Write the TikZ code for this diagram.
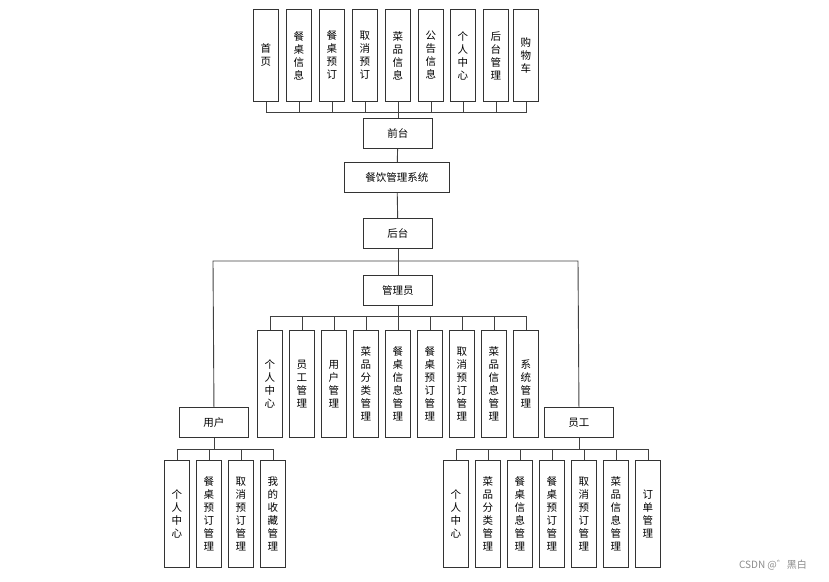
\documentclass[tikz,border=0pt]{standalone}
\usepackage{fontspec}
\usetikzlibrary{calc}
\newfontfamily\cjk{Noto Sans CJK SC}
\begin{document}
\begin{tikzpicture}[x=1pt,y=-1pt,
 bx/.style={draw=black!80,line width=0.9pt,fill=white,anchor=north west,inner sep=0pt,font=\cjk\fontsize{10.5}{13}\selectfont,align=center},
 hb/.style={bx,minimum width=69pt,minimum height=30pt},
 tb/.style={bx,minimum width=25pt,minimum height=92pt},
 vb/.style={bx,minimum width=25pt,minimum height=107pt},
 ln/.style={draw=black!75,line width=0.9pt}]
\useasboundingbox (0,0) rectangle (829,581);
% top
\foreach \x/\t [count=\i] in {253/首\\页,286/餐\\桌\\信\\息,319/餐\\桌\\预\\订,352/取\\消\\预\\订,385/菜\\品\\信\\息,418/公\\告\\信\\息,450/个\\人\\中\\心,483/后\\台\\管\\理,513/购\\物\\车}
 \node[tb] (t\i) at (\x,9) {\t};
\node[hb] (qt) at (363,118) {前台};
\node[hb,minimum width=105pt] (sys) at (344,162) {餐饮管理系统};
\node[hb] (ht) at (363,218) {后台};
\node[hb] (gly) at (363,275) {管理员};
\node[hb] (yh) at (179,407) {用户};
\node[hb] (yg) at (544,407) {员工};
\foreach \i in {1,...,9} \draw[ln] (t\i.south) -- ++(0,11);
\draw[ln] ($(t1.south)+(0,11)$) -- ($(t9.south)+(0,11)$);
\draw[ln] (qt.north) -- ++(0,-5);
\draw[ln] (qt) -- (sys);
\draw[ln] (sys) -- (ht);
\draw[ln] (ht.south) -- (gly.north);
\draw[ln] (yh.north) -- (213,261) -- (578,261) -- (yg.north);
% admin
\foreach \x/\t [count=\i] in {257/个\\人\\中\\心,289/员\\工\\管\\理,321/用\\户\\管\\理,353/菜\\品\\分\\类\\管\\理,385/餐\\桌\\信\\息\\管\\理,417/餐\\桌\\预\\订\\管\\理,449/取\\消\\预\\订\\管\\理,481/菜\\品\\信\\息\\管\\理,513/系\\统\\管\\理}
 {\node[vb] (a\i) at (\x,330) {\t};
  \draw[ln] (a\i.north) -- ++(0,-14);}
\draw[ln] ($(a1.north)+(0,-14)$) -- ($(a9.north)+(0,-14)$);
\draw[ln] (gly.south) -- ++(0,12);
% user
\foreach \x/\t [count=\i] in {164/个\\人\\中\\心,196/餐\\桌\\预\\订\\管\\理,228/取\\消\\预\\订\\管\\理,260/我\\的\\收\\藏\\管\\理}
 {\node[vb] (u\i) at (\x,460) {\t};
  \draw[ln] (u\i.north) -- ++(0,-11);}
\draw[ln] ($(u1.north)+(0,-11)$) -- ($(u4.north)+(0,-11)$);
\draw[ln] (yh.south) -- ++(0,12);
% staff
\foreach \x/\t [count=\i] in {443/个\\人\\中\\心,475/菜\\品\\分\\类\\管\\理,507/餐\\桌\\信\\息\\管\\理,539/餐\\桌\\预\\订\\管\\理,571/取\\消\\预\\订\\管\\理,603/菜\\品\\信\\息\\管\\理,635/订\\单\\管\\理}
 {\node[vb] (s\i) at (\x,460) {\t};
  \draw[ln] (s\i.north) -- ++(0,-11);}
\draw[ln] ($(s1.north)+(0,-11)$) -- ($(s7.north)+(0,-11)$);
\draw[ln] (yg.south) -- ++(0,12);
\node[font=\cjk\fontsize{10}{12}\selectfont,text=black!45] (wm) at (773,565) {CSDN @゛黑白};
\end{tikzpicture}
\end{document}
